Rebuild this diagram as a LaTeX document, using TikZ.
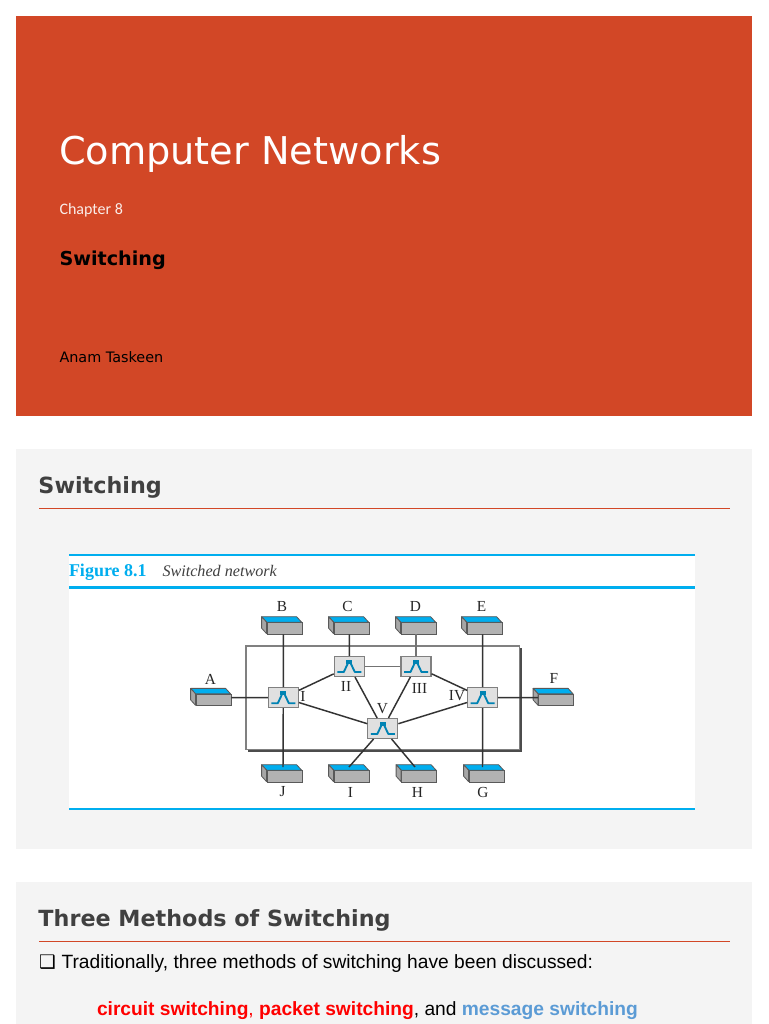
\documentclass[tikz,border=0pt]{standalone}
\usepackage{fontspec}
\setmainfont{DejaVu Sans}
\newfontfamily\figfont{Liberation Serif}
\newfontfamily\bodyfont{Liberation Sans}
\newfontfamily\subfont{Carlito}
\usetikzlibrary{positioning}
\definecolor{slideorange}{HTML}{D24726}
\definecolor{panelgray}{HTML}{F4F4F4}
\definecolor{figblue}{HTML}{00AEEF}
\definecolor{headgray}{HTML}{404040}
\definecolor{msgblue}{HTML}{5B9BD5}
\tikzset{
    txt/.style={anchor=base west, inner sep=0pt, outer sep=0pt}, % all slide text hangs on its baseline
    panel/.style={fill=panelgray, draw=none},
    rulerline/.style={draw=slideorange, line width=0.8pt},
    figlabel/.style={inner sep=0pt, font=\figfont\fontsize{11.5}{11.5}\selectfont, text=black!85},
    link/.style={line width=1.1pt, draw=black!80},
    thinlink/.style={line width=1.2pt, draw=black!55},
    % a station: the node is the front face, the two other faces come in a loop
    station/.style={draw=black!65, fill=black!30, line width=0.6pt, minimum width=26.25pt, minimum height=8.6pt, inner sep=0pt},
    face/.style={draw=black!65, line width=0.6pt, line join=round},
    % a switch: pale box, the blue sign goes on top in the picture
    switchbox/.style={draw=black!50, fill=black!12, line width=0.8pt, minimum width=22.5pt, minimum height=15pt, inner sep=0pt},
    sign/.style={draw=figblue!75!black, line width=1.4pt, line join=round},
}

\begin{document}
\begin{tikzpicture}[x=0.75pt, y=-0.75pt]
\useasboundingbox (0,0) rectangle (768,1024);
% the three slides
\fill[slideorange] (16,16) rectangle (752,416);
\path[panel] (16,449) rectangle (752,849);
\path[panel] (16,882) rectangle (752,1024);

% first slide
\node[txt, text=white, font=\fontsize{28.7}{30}\selectfont] (title) at (59,164) {Computer Networks};
\node[txt, text=white!90!slideorange, font=\subfont\fontsize{12}{12}\selectfont] (chapter) at (59.5,214) {Chapter 8};
\node[txt, font=\bfseries\fontsize{14.4}{14.5}\selectfont] (topic) at (59.5,265) {Switching};
\node[txt, font=\fontsize{10.8}{11}\selectfont] (author) at (59.5,362) {Anam Taskeen};

% second slide
\node[txt, text=headgray, font=\bfseries\fontsize{16.7}{17}\selectfont] (head2) at (38.5,493.5) {Switching};
\draw[rulerline] (39,508.5) -- (729.5,508.5);

% the figure
\fill[white] (69,555) rectangle (695,809);
\draw[figblue, line width=1.2pt] (69,555) -- (695,555);
\draw[figblue, line width=2.6pt] (69,587.5) -- (695,587.5);
\draw[figblue, line width=1.2pt] (69,809) -- (695,809);
\node[txt, text=figblue, font=\figfont\bfseries\fontsize{13.5}{13.5}\selectfont] (fignum) at (69,576.5) {Figure 8.1};
\node[txt, text=black!75, font=\figfont\itshape\fontsize{12.1}{12.1}\selectfont] (figname) at (162.5,576.5) {Switched network};

% network cloud with its shadow
\fill[black!70] (248,648) rectangle (522,752);
\draw[black!50, fill=white, line width=0.8pt] (246,646) rectangle (519.5,749.5);

% stations
\node[station] (B) at (284.5,628.3) {};
\node[station] (C) at (351.5,628.3) {};
\node[station] (D) at (418.5,628.3) {};
\node[station] (E) at (484.5,628.3) {};
\node[station] (A) at (213.5,700) {};
\node[station] (F) at (556,700) {};
\node[station] (J) at (284.5,776.3) {};
\node[station] (I) at (351.5,776.3) {};
\node[station] (H) at (419,776.3) {};
\node[station] (G) at (486.5,776.3) {};
\foreach \st in {A, B, C, D, E, F, G, H, I, J} {
    \filldraw[face, fill=figblue, shift={(\st.north west)}] (0,0) -- (-5,-5.5) -- (30,-5.5) -- (35,0) -- cycle;
    \filldraw[face, fill=black!35, shift={(\st.north west)}] (0,0) -- (-5,-5.5) -- (-5,6) -- (0,11.5) -- cycle;
}

% switches
\node[switchbox] (sI) at (283.3,697.7) {};
\node[switchbox] (sII) at (349.3,666.5) {};
\node[switchbox] (sIII) at (416,666.5) {};
\node[switchbox] (sIV) at (482.7,697.7) {};
\node[switchbox] (sV) at (382.8,728.5) {};
\foreach \sw in {sI, sII, sIII, sIV, sV} {
    \draw[sign, shift={(\sw.center)}] (-12,5.5) -- (-5.5,5.5) -- (-1.5,-3) (1.5,-3) -- (5.5,5.5) -- (12,5.5);
    \fill[figblue!75!black, shift={(\sw.center)}] (-3,-7) rectangle (3,-2.5);
}

% free ends of the lines that stop on a station's top
\coordinate (Jtop) at (283,767);
\coordinate (Itop) at (349,767);
\coordinate (Htop) at (415,767);
\coordinate (Gtop) at (482.5,767);

% connections
\draw[link]
(A.east |- sI) -- (sI)
(sI) -- (sI |- B.south)
(sI) -- (Jtop)
(sII) -- (sII |- C.south)
(sIV) -- (sIV |- E.south)
(sIV) -- (Gtop)
(sIV) -- (F.west |- sIV)
(sI) -- (sII)
(sI) -- (sV)
(sII) -- (sV)
(sIII) -- (sV)
(sIII) -- (sIV)
(sIV) -- (sV)
(sV) -- (Itop)
(sV) -- (Htop);
\draw[thinlink]
(sII) -- (sIII)
(sIII) -- (sIII |- D.south);

% labels
\node[figlabel] (lB) at (282,606) {B};
\node[figlabel] (lC) at (347.5,606) {C};
\node[figlabel] (lD) at (415.5,606) {D};
\node[figlabel] (lE) at (481.5,606) {E};
\node[figlabel] (lA) at (210.5,679) {A};
\node[figlabel] (lF) at (554,678.5) {F};
\node[figlabel] (lJ) at (282.5,792) {J};
\node[figlabel] (lI) at (350.5,792) {I};
\node[figlabel] (lH) at (417.5,792) {H};
\node[figlabel] (lG) at (483,792) {G};
\node[figlabel] (nI) at (303,696.5) {I};
\node[figlabel] (nII) at (346,686) {II};
\node[figlabel] (nIII) at (419.5,688) {III};
\node[figlabel] (nIV) at (457,696) {IV};
\node[figlabel] (nV) at (382.5,709) {V};

% third slide
\node[txt, text=headgray, font=\bfseries\fontsize{16.7}{17}\selectfont] (head3) at (38.5,926.5) {Three Methods of Switching};
\draw[rulerline] (39,941.5) -- (729.5,941.5);
\node[txt, font=\fontsize{14}{14}\selectfont] (box) at (39,968) {❑};
\node[txt, font=\bodyfont\fontsize{14.4}{14.4}\selectfont] (intro) at (61.5,968) {Traditionally, three methods of switching have been discussed:};
\node[txt, font=\bodyfont\fontsize{14.4}{14.4}\selectfont] (methods) at (97,1015) {\textcolor{red}{\textbf{circuit switching}, \textbf{packet switching}},
    and \textcolor{msgblue}{\textbf{message switching}}};
\end{tikzpicture}
\end{document}
